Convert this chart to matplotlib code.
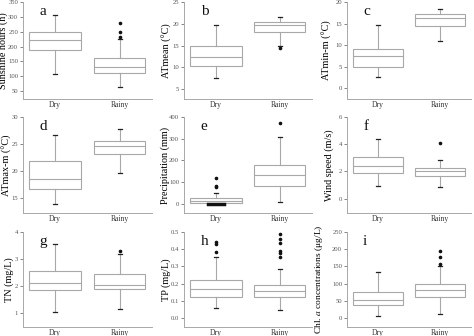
import numpy as np
import matplotlib
matplotlib.use("Agg")
import matplotlib.pyplot as plt

plt.rcParams['font.family'] = ['Liberation Serif', 'DejaVu Serif']
plt.rcParams['mathtext.fontset'] = 'stix'

groups = ["Dry", "Rainy"]

# per panel: (q1, median, q3, whisker low, whisker high, fliers) for Dry / Rainy
sunshine_dry = (188, 223, 250, 108, 306, [])
sunshine_rainy = (111, 131, 160, 63, 225, [233, 249, 278])
atmean_dry = (10.3, 12.4, 14.9, 7.5, 19.7, [])
atmean_rainy = (18.2, 19.7, 20.4, 15.0, 21.6, [14.5])
atmin_dry = (5.0, 7.4, 9.1, 2.7, 14.7, [])
atmin_rainy = (14.5, 16.3, 17.2, 11.0, 18.4, [])
atmax_dry = (16.8, 18.6, 21.9, 13.9, 26.6, [])
atmax_rainy = (23.2, 24.6, 25.6, 19.6, 27.7, [])
precip_dry = (1, 10, 25, 0, 50, [77, 82, 120])
precip_rainy = (80, 131, 178, 9, 305, [370])
wind_dry = (1.9, 2.37, 3.05, 0.95, 4.4, [])
wind_rainy = (1.66, 2.0, 2.24, 0.85, 2.85, [4.07])
tn_dry = (1.85, 2.12, 2.56, 1.05, 3.55, [])
tn_rainy = (1.88, 2.06, 2.44, 1.15, 3.2, [3.3])
tp_dry = (0.123, 0.169, 0.222, 0.058, 0.352, [0.385, 0.43, 0.44])
tp_rainy = (0.123, 0.158, 0.194, 0.05, 0.285, [0.355, 0.375, 0.39, 0.435, 0.46, 0.49])
chla_dry = (37, 54, 77, 7, 135, [])
chla_rainy = (62, 82, 98, 12, 152, [157, 178, 195])

panels = [
    ("a", "Sunshine hours (h)", sunshine_dry, sunshine_rainy, (23, 350), np.arange(50, 351, 50), "%d", -0.15),
    ("b", "ATmean (°C)", atmean_dry, atmean_rainy, (2.7, 25), np.arange(5, 26, 5), "%d", -0.135),
    ("c", "ATmin-m (°C)", atmin_dry, atmin_rainy, (-2.5, 20), np.arange(0, 21, 5), "%d", -0.16),
    ("d", "ATmax-m (°C)", atmax_dry, atmax_rainy, (12.3, 30), np.arange(15, 31, 5), "%d", -0.125),
    ("e", "Precipitation (mm)", precip_dry, precip_rainy, (-44, 400), np.arange(0, 401, 100), "%d", -0.15),
    ("f", "Wind speed (m/s)", wind_dry, wind_rainy, (-1.05, 6), np.arange(0, 7, 2), "%d", -0.145),
    ("g", "TN (mg/L)", tn_dry, tn_rainy, (0.5, 4), np.arange(1, 5, 1), "%d", -0.105),
    ("h", "TP (mg/L)", tp_dry, tp_rainy, (-0.05, 0.5), np.arange(0, 0.51, 0.1), "%.1f", -0.14),
    ("i", "Chl. $a$ concentrations (μg/L)", chla_dry, chla_rainy, (-25, 250), np.arange(0, 251, 50), "%d", -0.225),
]

fig = plt.figure(figsize=(4.74, 3.36), dpi=100)

lefts = [0.0485, 0.388, 0.732]
widths = [0.272, 0.27, 0.262]
bottoms = [0.705, 0.366, 0.027]
heights = [0.289, 0.286, 0.283]

edge = "#a8a8a8"

for k, (letter, ylabel, d1, d2, ylim, ticks, fmt, labx) in enumerate(panels):
    r, c = divmod(k, 3)
    ax = fig.add_axes([lefts[c], bottoms[r], widths[c], heights[r]])
    stats = []
    for name, s in zip(groups, (d1, d2)):
        stats.append(dict(label=name, q1=s[0], med=s[1], q3=s[2],
                          whislo=s[3], whishi=s[4], fliers=s[5]))
    res = ax.bxp(stats, positions=[1, 2], widths=0.8, capwidths=0.06,
                 patch_artist=True,
                 boxprops=dict(facecolor="white", edgecolor=edge, linewidth=0.8),
                 medianprops=dict(color=edge, linewidth=0.8),
                 whiskerprops=dict(color=edge, linewidth=0.8),
                 capprops=dict(color="#222222", linewidth=0.9),
                 flierprops=dict(marker="o", markersize=1.6, markerfacecolor="#111111",
                                 markeredgecolor="#111111"))
    if letter == "e":
        # many zero values in the dry season stack into a dark bar
        cap = res["caps"][0]
        cap.set_xdata([0.88, 1.12])
        cap.set_linewidth(2.5)
        cap.set_color("#111111")
    ax.set_xlim(0.5, 2.5)
    ax.set_ylim(*ylim)
    ax.set_yticks(ticks)
    ax.set_yticklabels([fmt % t for t in ticks])
    fs = 6.8 if letter == "i" else 7.3
    ax.set_ylabel(ylabel, fontsize=fs, va="center")
    ax.yaxis.set_label_coords(labx, 0.5)
    ax.tick_params(axis="both", labelsize=4.8, length=2, width=0.5,
                   colors="#555555", pad=1.5)
    ax.tick_params(axis="x", length=0, labelsize=5.5, labelcolor="#333333")
    ax.tick_params(axis="y", labelcolor="#555555")
    for sp in ("top", "right"):
        ax.spines[sp].set_visible(False)
    for sp in ("left", "bottom"):
        ax.spines[sp].set_color(edge)
        ax.spines[sp].set_linewidth(0.7)
    ax.text(0.13, 0.97, letter, transform=ax.transAxes, fontsize=11,
            va="top", ha="left", color="#111111")

fig.savefig("out.png", dpi=100)
